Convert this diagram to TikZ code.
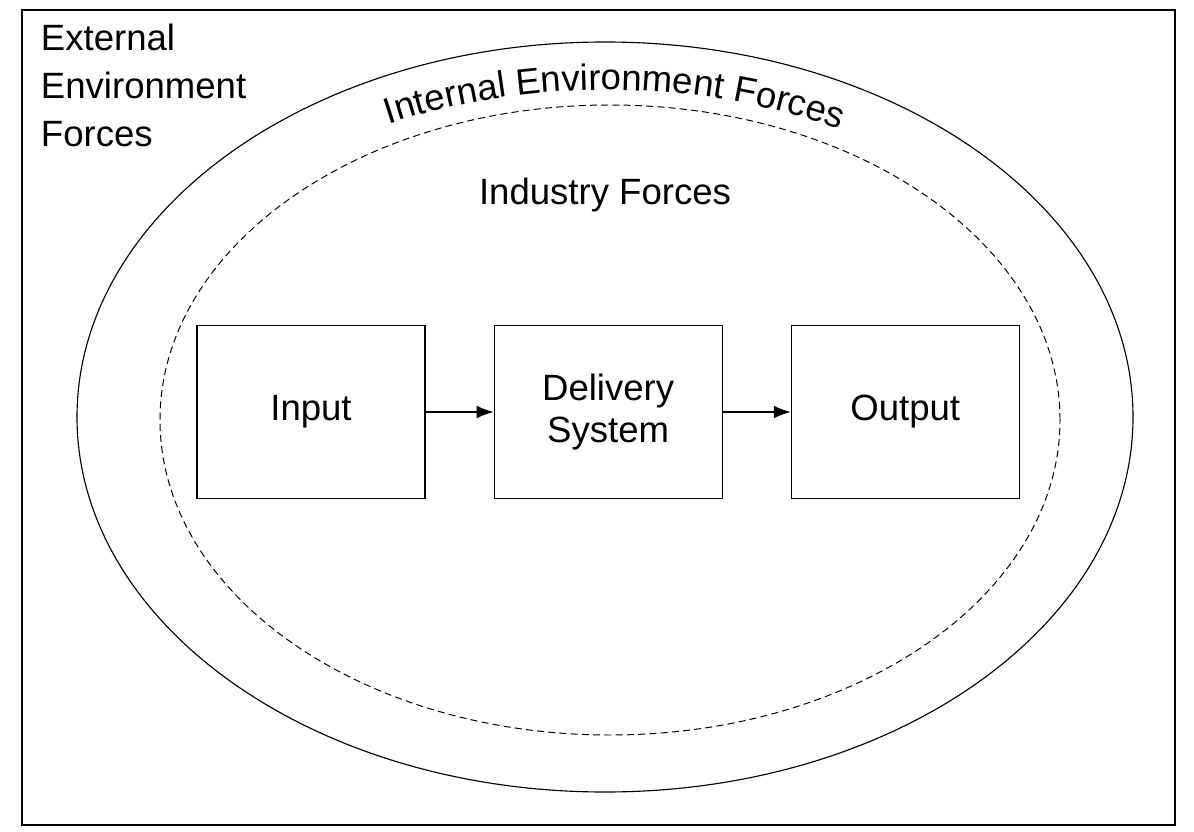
\documentclass[tikz,border=0pt]{standalone}
\usepackage{fontspec}
\setmainfont{Liberation Sans}
\usetikzlibrary{positioning,decorations.text,arrows.meta}
\tikzstyle{block} = [draw, rectangle, line width=0.8pt,
    minimum height=173*0.025cm, minimum width=228*0.025cm, align=center, font=\fontsize{26}{30}\selectfont]
\tikzstyle{input} = [coordinate]

\begin{document}
\begin{tikzpicture}[x=0.025cm, y=0.025cm, node distance=68*0.025cm, >={Latex[length=12pt, width=9pt]}]
    \useasboundingbox (0,0) rectangle (1194,831);
    \draw [line width=0.8pt] (22,6) rectangle (1175,821);
    \draw [line width=0.8pt] (605,414) ellipse [x radius=528, y radius=375];
    \draw [line width=0.7pt, dash pattern=on 5pt off 3pt] (610,411) ellipse [x radius=450, y radius=315];

    \node [anchor=north west, align=left, font=\fontsize{26}{34}\selectfont] (ext) at (36,812) {External\\Environment\\Forces};
    \path [decorate, decoration={text along path, text align=center,
        text={|\fontsize{26}{30}\selectfont|Internal Environment Forces}}]
        (607,414) ++(122:490 and 327) arc [start angle=122, end angle=56, x radius=490, y radius=327];
    \node [font=\fontsize{26}{30}\selectfont] (ind) at (605,636) {Industry Forces};

    \node [block] (in) at (311,419) {Input};
    \node [block, right=of in] (del) {Delivery\\System};
    \node [block, right=of del] (out) {Output};

    \draw [->, line width=0.8pt] (in) -- (del);
    \draw [->, line width=0.8pt] (del) -- (out);
\end{tikzpicture}
\end{document}
